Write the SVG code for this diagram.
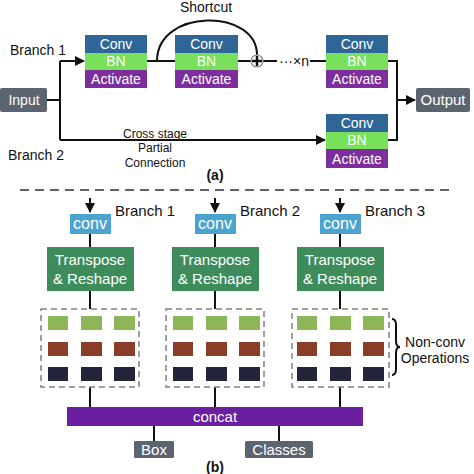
<svg xmlns="http://www.w3.org/2000/svg" width="474" height="474" viewBox="0 0 474 474">
<defs>
<marker id="ah" viewBox="0 0 10 10" refX="9" refY="5" markerWidth="5" markerHeight="5" orient="auto" markerUnits="strokeWidth"><path d="M0,0 L10,5 L0,10 z" fill="#111"/></marker>
<style>
text{font-family:"Liberation Sans",Arial,sans-serif;}
.w{fill:#fff;text-anchor:middle;font-size:14px;}
.k{fill:#111;font-size:14px;}
.conv{fill:#2d6697;}
.bn{fill:#78e05a;}
.act{fill:#7b2e9c;}
.gray{fill:#5c6470;}
.sc{fill:#4aa4cf;}
.tr{fill:#3e8c5c;}
.g{fill:#8cb657;}
.b{fill:#8a3e28;}
.d{fill:#24243a;}
.dash{fill:none;stroke:#808080;stroke-width:1.5;stroke-dasharray:6,4;}
.ln{fill:none;stroke:#111;stroke-width:2;}
</style>
</defs>
<rect width="474" height="474" fill="#fff"/>

<g id="connectors">
<path class="ln" d="M47,100 H60 M60,61 V140"/>
<path class="ln" d="M60,61 H84" marker-end="url(#ah)"/>
<path class="ln" d="M60,140 H325" marker-end="url(#ah)"/>
<path class="ln" d="M147,61 H175 M238,61 H251 M263,61 H277 M310,61 H326"/>
<path class="ln" d="M157,61 C157,8 257,8 257,55"/>
<path class="ln" d="M388,61 H397 V140 H388 M397,100 H415" marker-end="url(#ah)"/>
<path class="ln" d="M90,198 V212" marker-end="url(#ah)"/>
<path class="ln" d="M215,198 V212" marker-end="url(#ah)"/>
<path class="ln" d="M340,198 V212" marker-end="url(#ah)"/>
<path class="ln" d="M90,234 V247 M90,291 V309 M215,234 V247 M215,291 V309 M340,234 V247 M340,291 V309"/>
<path class="ln" d="M90,387 V408 M215,387 V408 M340,387 V408 M154,426 V441 M279,426 V441"/>
<path class="ln" d="M392,319 q4,0 4,6 v16 q0,6 4,6 q-4,0 -4,6 v16 q0,6 -4,6" stroke-width="1.5"/>
</g>

<g id="shortcut-add">
<circle cx="257" cy="61" r="6" fill="#fff" stroke="#888" stroke-width="1.2"/>
<path d="M252,61 H262 M257,56 V66" stroke="#111" stroke-width="2.5"/>
</g>

<g id="input"><rect x="0" y="88" width="47" height="24" rx="2" class="gray"/><text x="24" y="105" class="w" font-size="14.5">Input</text></g>
<g id="output"><rect x="416" y="88" width="54" height="24" rx="2" class="gray"/><text x="443" y="105" class="w" style="font-size:15px">Output</text></g>

<g id="block1">
<rect x="85" y="35" width="62" height="18" class="conv"/><rect x="85" y="53" width="62" height="17" class="bn"/><rect x="85" y="70" width="62" height="18" class="act"/>
<text x="116" y="49" class="w">Conv</text><text x="116" y="66" class="w">BN</text><text x="116" y="84" class="w">Activate</text>
</g>
<g id="block2">
<rect x="175" y="35" width="63" height="18" class="conv"/><rect x="175" y="53" width="63" height="17" class="bn"/><rect x="175" y="70" width="63" height="18" class="act"/>
<text x="206.5" y="49" class="w">Conv</text><text x="206.5" y="66" class="w">BN</text><text x="206.5" y="84" class="w">Activate</text>
</g>
<g id="block3">
<rect x="326" y="35" width="62" height="18" class="conv"/><rect x="326" y="53" width="62" height="17" class="bn"/><rect x="326" y="70" width="62" height="18" class="act"/>
<text x="357" y="49" class="w">Conv</text><text x="357" y="66" class="w">BN</text><text x="357" y="84" class="w">Activate</text>
</g>
<g id="block4">
<rect x="326" y="114" width="62" height="18" class="conv"/><rect x="326" y="132" width="62" height="17" class="bn"/><rect x="326" y="149" width="62" height="19" class="act"/>
<text x="357" y="128" class="w">Conv</text><text x="357" y="145" class="w">BN</text><text x="357" y="164" class="w">Activate</text>
</g>

<g id="labels-a">
<text x="206" y="12" class="k" text-anchor="middle">Shortcut</text>
<text x="10" y="55" class="k">Branch 1</text>
<text x="8" y="160" class="k">Branch 2</text>
<text x="294" y="66" class="k" text-anchor="middle" font-size="13">···×n</text>
<text x="155" y="138" class="k" text-anchor="middle" style="font-size:12px">Cross stage</text>
<text x="155" y="152" class="k" text-anchor="middle" style="font-size:12px">Partial</text>
<text x="155" y="167" class="k" text-anchor="middle" style="font-size:12px">Connection</text>
<text x="215" y="180" class="k" text-anchor="middle" font-weight="bold">(a)</text>
</g>

<line x1="20" y1="190" x2="453" y2="190" stroke="#5c6470" stroke-width="2" stroke-dasharray="9,6"/>

<g id="branch-b1">
<rect x="70" y="214" width="41" height="20" class="sc"/><text x="90" y="229" class="w" style="font-size:16px">conv</text>
<rect x="47" y="247" width="87" height="44" class="tr"/>
<text x="90" y="265" class="w" style="font-size:15px">Transpose</text><text x="90" y="284" class="w" style="font-size:15px">&amp; Reshape</text>
<text x="115" y="216" class="k" style="font-size:15px">Branch 1</text>
</g>
<g id="branch-b2">
<rect x="195" y="214" width="41" height="20" class="sc"/><text x="215" y="229" class="w" style="font-size:16px">conv</text>
<rect x="172" y="247" width="87" height="44" class="tr"/>
<text x="215" y="265" class="w" style="font-size:15px">Transpose</text><text x="215" y="284" class="w" style="font-size:15px">&amp; Reshape</text>
<text x="240" y="216" class="k" style="font-size:15px">Branch 2</text>
</g>
<g id="branch-b3">
<rect x="320" y="214" width="41" height="20" class="sc"/><text x="340" y="229" class="w" style="font-size:16px">conv</text>
<rect x="297" y="247" width="87" height="44" class="tr"/>
<text x="340" y="265" class="w" style="font-size:15px">Transpose</text><text x="340" y="284" class="w" style="font-size:15px">&amp; Reshape</text>
<text x="365" y="216" class="k" style="font-size:15px">Branch 3</text>
</g>

<g id="ops1">
<rect x="41" y="309" width="98" height="78" class="dash"/>
<rect x="48" y="316" width="20" height="14" class="g"/><rect x="81" y="316" width="21" height="14" class="g"/><rect x="114" y="316" width="21" height="14" class="g"/>
<rect x="48" y="342" width="20" height="14" class="b"/><rect x="81" y="342" width="21" height="14" class="b"/><rect x="114" y="342" width="21" height="14" class="b"/>
<rect x="48" y="367" width="20" height="14" class="d"/><rect x="81" y="367" width="21" height="14" class="d"/><rect x="114" y="367" width="21" height="14" class="d"/>
</g>
<g id="ops2">
<rect x="166" y="309" width="98" height="78" class="dash"/>
<rect x="173" y="316" width="20" height="14" class="g"/><rect x="206" y="316" width="21" height="14" class="g"/><rect x="239" y="316" width="21" height="14" class="g"/>
<rect x="173" y="342" width="20" height="14" class="b"/><rect x="206" y="342" width="21" height="14" class="b"/><rect x="239" y="342" width="21" height="14" class="b"/>
<rect x="173" y="367" width="20" height="14" class="d"/><rect x="206" y="367" width="21" height="14" class="d"/><rect x="239" y="367" width="21" height="14" class="d"/>
</g>
<g id="ops3">
<rect x="292" y="309" width="97" height="78" class="dash"/>
<rect x="297" y="316" width="20" height="14" class="g"/><rect x="330" y="316" width="21" height="14" class="g"/><rect x="363" y="316" width="21" height="14" class="g"/>
<rect x="297" y="342" width="20" height="14" class="b"/><rect x="330" y="342" width="21" height="14" class="b"/><rect x="363" y="342" width="21" height="14" class="b"/>
<rect x="297" y="367" width="20" height="14" class="d"/><rect x="330" y="367" width="21" height="14" class="d"/><rect x="363" y="367" width="21" height="14" class="d"/>
</g>

<g id="nonconv-label">
<text x="435" y="347" class="k" text-anchor="middle">Non-conv</text>
<text x="435" y="363" class="k" text-anchor="middle">Operations</text>
</g>

<g id="concat"><rect x="67" y="407" width="296" height="19" fill="#6a1fa0"/><text x="215" y="422" class="w" style="font-size:15px">concat</text></g>
<g id="box"><rect x="134" y="441" width="40" height="17" rx="1.5" class="gray"/><text x="154" y="455" class="w" style="font-size:15px">Box</text></g>
<g id="classes"><rect x="245" y="441" width="68" height="17" rx="1.5" class="gray"/><text x="279" y="455" class="w" style="font-size:15px">Classes</text></g>
<text x="215" y="472" class="k" text-anchor="middle" font-weight="bold">(b)</text>
</svg>
